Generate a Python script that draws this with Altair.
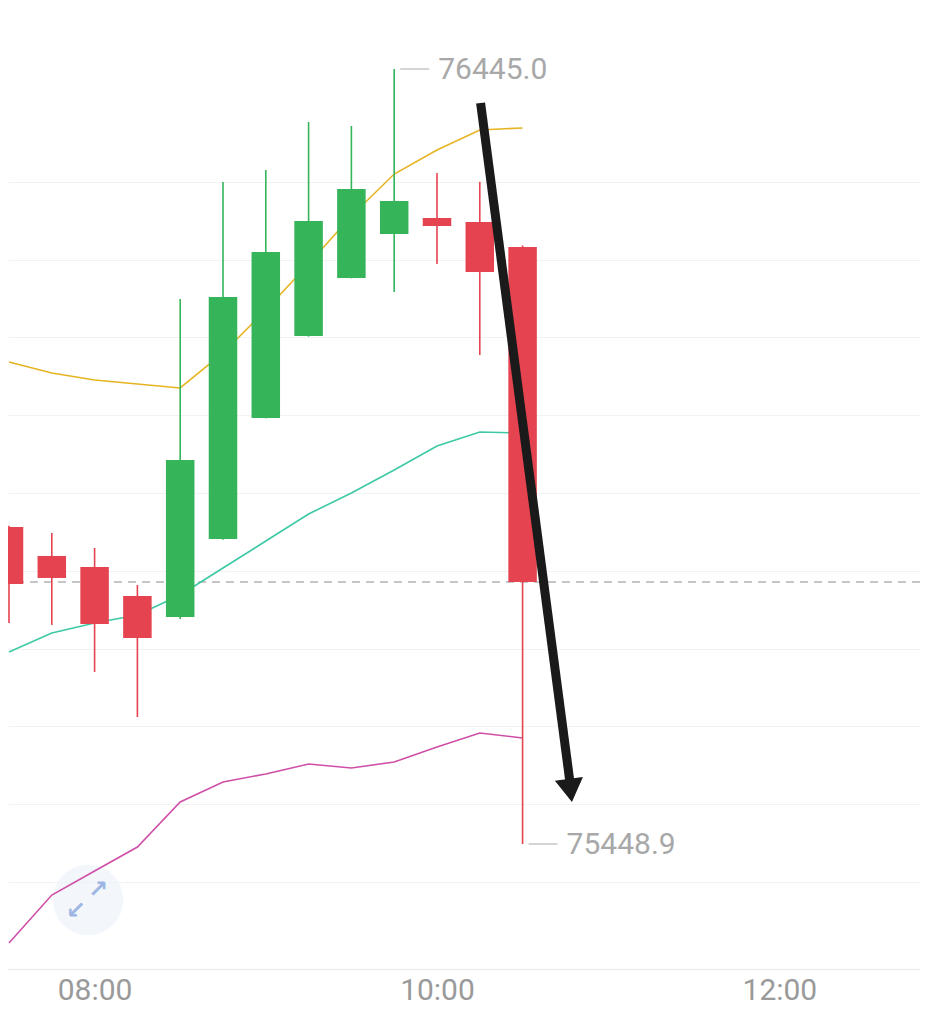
import altair as alt
import pandas as pd

# ---- data (15-minute candles) ----
times = ["07:30", "07:45", "08:00", "08:15", "08:30", "08:45", "09:00",
         "09:15", "09:30", "09:45", "10:00", "10:15", "10:30"]
opens = [75856.3, 75819.1, 75804.9, 75767.6, 75740.7, 75840.9, 75996.4,
         76101.8, 76176.4, 76232.9, 76253.5, 76248.3, 76216.2]
highs = [75858.0, 75848.6, 75829.3, 75781.8, 76149.4, 76299.8, 76315.2,
         76376.9, 76371.7, 76445.0, 76311.3, 76300.0, 76218.0]
lows = [75732.9, 75730.4, 75670.0, 75612.1, 75738.0, 75840.0, 75996.0,
        76101.0, 76176.0, 76158.4, 76194.4, 76077.4, 75448.9]
closes = [75783.1, 75790.8, 75731.7, 75713.7, 75942.4, 76152.0, 76209.8,
          76249.6, 76290.8, 76275.3, 76243.2, 76184.1, 75785.6]

ma_yellow = [76068.4, 76054.3, 76045.3, 76040.1, 76035.0, 76080.0, 76135.2,
             76194.4, 76256.1, 76310.0, 76340.9, 76366.6, 76369.2]
ma_teal = [75695.7, 75720.1, 75732.9, 75743.2, 75768.9, 75803.6, 75838.3,
           75873.0, 75900.0, 75929.6, 75960.4, 75978.4, 75977.2]
ma_magenta = [75321.6, 75383.3, 75414.2, 75445.0, 75502.9, 75528.6, 75538.9,
              75551.7, 75546.6, 75554.3, 75573.6, 75591.6, 75585.1]

grid_prices = [76300, 76200, 76100, 76000, 75900, 75800, 75700, 75600, 75500, 75400]
x_ticks = ["08:00", "10:00", "12:00"]
high_label = ["09:45", 76445.0, "76445.0"]
low_label = ["10:30", 75448.9, "75448.9"]
last_price = 75785.6
arrow_start = ["10:15:17", 76401.3]
arrow_end = ["10:46:30", 75531.0]
arrow_head = ["10:46:39", 75520.9]
x_range = ["07:29:39", "12:49:17"]
y_range = [75288.2, 76523.4]


def minutes(s):
    parts = [int(v) for v in s.split(":")]
    while len(parts) < 3:
        parts.append(0)
    return parts[0] * 60 + parts[1] + parts[2] / 60.0


UP = "#35b45a"
DOWN = "#e5434f"

df = pd.DataFrame({
    "t": [minutes(t) for t in times],
    "open": opens, "high": highs, "low": lows, "close": closes,
    "ma1": ma_yellow, "ma2": ma_teal, "ma3": ma_magenta,
})
df["dir"] = ["up" if c >= o else "down" for o, c in zip(opens, closes)]

xscale = alt.Scale(domain=[minutes(v) for v in x_range], nice=False, zero=False, padding=0)
yscale = alt.Scale(domain=y_range, nice=False, zero=False, padding=0)

label_expr = ("(floor(datum.value/60) < 10 ? '0' : '') + floor(datum.value/60) + ':' + "
              "(datum.value % 60 < 10 ? '0' : '') + (datum.value % 60)")

X = alt.X("t:Q", scale=xscale,
          axis=alt.Axis(values=[minutes(v) for v in x_ticks], labelExpr=label_expr,
                        title=None, grid=False, ticks=False, domain=True,
                        domainColor="#eeeeee", domainWidth=1.5,
                        labelFontSize=30, labelColor="#9a9a9a", labelFont="Roboto",
                        labelPadding=6, labelFlush=False))
Y = alt.Y("low:Q", scale=yscale,
          axis=alt.Axis(values=grid_prices, labels=False, ticks=False, domain=False,
                        title=None, grid=True, gridColor="#f2f2f2", gridWidth=1.2))

color = alt.Color("dir:N", scale=alt.Scale(domain=["up", "down"], range=[UP, DOWN]),
                  legend=None)

base = alt.Chart(df)

grid_layer = base.mark_rule(opacity=0).encode(x=X, y=Y)

wicks = base.mark_rule(strokeWidth=1.6).encode(
    x=alt.X("t:Q", scale=xscale), y=alt.Y("low:Q", scale=yscale), y2="high:Q", color=color)
bodies = base.mark_bar(size=28.5).encode(
    x=alt.X("t:Q", scale=xscale), y=alt.Y("open:Q", scale=yscale), y2="close:Q", color=color)


def ma_line(field, col):
    return base.mark_line(strokeWidth=1.6, color=col).encode(
        x=alt.X("t:Q", scale=xscale), y=alt.Y(f"{field}:Q", scale=yscale))


lines = ma_line("ma1", "#e6b422") + ma_line("ma2", "#3dc9a5") + ma_line("ma3", "#cf4fa8")

last_df = pd.DataFrame({"p": [last_price]})
last_line = alt.Chart(last_df).mark_rule(strokeDash=[8, 6], strokeWidth=1.5,
                                         color="#b3b3b3").encode(
    y=alt.Y("p:Q", scale=yscale))

lab_df = pd.DataFrame({
    "t": [minutes(high_label[0]), minutes(low_label[0])],
    "p": [high_label[1], low_label[1]],
    "txt": [high_label[2], low_label[2]],
})
leaders = alt.Chart(lab_df).mark_rule(xOffset=6, x2Offset=35, strokeWidth=1.2,
                                      color="#b8b8b8").encode(
    x=alt.X("t:Q", scale=xscale), x2="t:Q", y=alt.Y("p:Q", scale=yscale))
labels = alt.Chart(lab_df).mark_text(align="left", baseline="middle", dx=44, dy=1,
                                     fontSize=30, font="Roboto", color="#a8a8a8").encode(
    x=alt.X("t:Q", scale=xscale), y=alt.Y("p:Q", scale=yscale), text="txt:N")

arrow_df = pd.DataFrame({
    "t1": [minutes(arrow_start[0])], "p1": [arrow_start[1]],
    "t2": [minutes(arrow_end[0])], "p2": [arrow_end[1]],
})
arrow_shaft = alt.Chart(arrow_df).mark_rule(strokeWidth=9, color="#1a1a1a",
                                            strokeCap="butt").encode(
    x=alt.X("t1:Q", scale=xscale), y=alt.Y("p1:Q", scale=yscale), x2="t2:Q", y2="p2:Q")
head_df = pd.DataFrame({"t": [minutes(arrow_head[0])], "p": [arrow_head[1]]})
arrow_tip = alt.Chart(head_df).mark_point(
    shape="M-1,-0.65L1,-0.65L0,1Z", size=800, filled=True, opacity=1,
    color="#1a1a1a", angle=352.6, strokeWidth=0).encode(
    x=alt.X("t:Q", scale=xscale), y=alt.Y("p:Q", scale=yscale))

# zoom/expand UI icon in the lower-left corner
icon_bg = alt.Chart(last_df).mark_point(shape="circle", size=5000, filled=True,
                                        color="#eef3fb", opacity=0.7).encode(
    x=alt.value(80), y=alt.value(892))
icon_a = alt.Chart(last_df).mark_text(text="↗", fontSize=24, color="#9db6e3",
                                      font="DejaVu Sans", fontWeight="bold").encode(
    x=alt.value(90), y=alt.value(882))
icon_b = alt.Chart(last_df).mark_text(text="↙", fontSize=24, color="#9db6e3",
                                      font="DejaVu Sans", fontWeight="bold").encode(
    x=alt.value(68), y=alt.value(903))

chart = alt.layer(
    grid_layer, icon_bg, icon_a, icon_b, last_line, lines, wicks, bodies,
    leaders, labels, arrow_shaft, arrow_tip
).properties(
    width=912, height=961,
    autosize=alt.AutoSizeParams(type="none"),
    padding={"left": 0, "top": 0, "right": 0, "bottom": 39},
).configure(background="white").configure_view(stroke=None)

chart.save("out.html", embed_options={"renderer": "svg", "actions": False})
